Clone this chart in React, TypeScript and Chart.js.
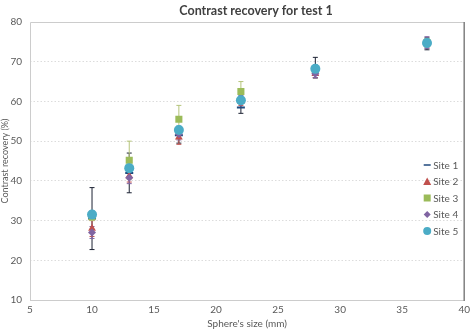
import React, { useEffect, useRef } from 'react';
import { Chart, registerables } from 'chart.js';

Chart.register(...registerables);

const chartTitle = 'Contrast recovery for test 1';
const xTitle = "Sphere's size (mm)";
const yTitle = 'Contrast recovery (%)';

const sizes = [10, 13, 17, 22, 28, 37];
const seriesNames = ['Site 1', 'Site 2', 'Site 3', 'Site 4', 'Site 5'];

const site1 = [30.5, 42, 51.5, 58.5, 68.5, 74.5];
const site1Err = [7.8, 5, 2, 1.5, 2.6, 1.5];
const site2 = [28, 41.2, 51, 60, 67, 74.5];
const site2Err = [2, 1.5, 1.8, 1, 1, 1];
const site3 = [31, 45.2, 55.5, 62.5, 68, 74.8];
const site3Err = [1, 4.8, 3.5, 2.5, 1, 1];
const site4 = [27, 40.8, 51.8, 60, 67, 74.8];
const site4Err = [1.5, 1.5, 1.5, 1.5, 1, 1.5];
const site5 = [31.5, 43.2, 52.8, 60.3, 68.2, 74.7];
const site5Err = [1, 1, 1, 1, 1, 1];

const seriesValues = [site1, site2, site3, site4, site5];
const seriesErrors = [site1Err, site2Err, site3Err, site4Err, site5Err];
const seriesColors = ['#1f497d', '#c0504d', '#9bbb59', '#8064a2', '#4bacc6'];
const errorColors = ['#1c2233', '#c0504d', '#b5c47a', '#8064a2', '#4bacc6'];
const pointStyles = ['line', 'triangle', 'rect', 'rectRot', 'circle'];
const pointRadii = [4, 4.5, 5, 4, 5];

const FONT = 'Lato, "Liberation Sans", sans-serif';
const GREY = '#595959';

const errorBarPlugin = {
  id: 'errorBars',
  beforeDatasetsDraw(chart: any) {
    const ctx = chart.ctx;
    const xs = chart.scales.x;
    const ys = chart.scales.y;
    ctx.save();
    seriesValues.forEach((vals, si) => {
      vals.forEach((v, j) => {
        const e = seriesErrors[si][j];
        const px = xs.getPixelForValue(sizes[j]);
        const top = ys.getPixelForValue(v + e);
        const bot = ys.getPixelForValue(v - e);
        ctx.strokeStyle = errorColors[si];
        ctx.lineWidth = 1;
        ctx.beginPath();
        ctx.moveTo(px, top);
        ctx.lineTo(px, bot);
        ctx.moveTo(px - 2.5, top);
        ctx.lineTo(px + 2.5, top);
        ctx.moveTo(px - 2.5, bot);
        ctx.lineTo(px + 2.5, bot);
        ctx.stroke();
      });
    });
    ctx.restore();
  },
};

const framePlugin = {
  id: 'frame',
  beforeDraw(chart: any) {
    const { ctx } = chart;
    ctx.save();
    ctx.fillStyle = '#ffffff';
    ctx.fillRect(0, 0, chart.width, chart.height);
    ctx.restore();
  },
  afterDraw(chart: any) {
    const { ctx, chartArea: a } = chart;
    ctx.save();
    ctx.strokeStyle = '#cccccc';
    ctx.lineWidth = 1;
    ctx.beginPath();
    ctx.moveTo(a.left + 0.5, a.bottom + 0.5);
    ctx.lineTo(a.left + 0.5, a.top + 0.5);
    ctx.lineTo(a.right, a.top + 0.5);
    ctx.moveTo(a.left, a.bottom + 0.5);
    ctx.lineTo(a.right, a.bottom + 0.5);
    ctx.stroke();
    ctx.strokeStyle = '#808080';
    ctx.lineWidth = 1.5;
    ctx.beginPath();
    ctx.moveTo(a.right, a.top);
    ctx.lineTo(a.right, a.bottom + 1);
    ctx.stroke();

    // title
    ctx.fillStyle = '#404040';
    ctx.font = `bold 12.5px ${FONT}`;
    ctx.textAlign = 'center';
    ctx.textBaseline = 'middle';
    ctx.fillText(chartTitle, 256, 11);

    // legend
    ctx.font = `10px ${FONT}`;
    ctx.textAlign = 'left';
    seriesNames.forEach((name, i) => {
      const y = a.top + 143 + i * 16.5;
      const mx = a.right - 37;
      const c = seriesColors[i];
      ctx.fillStyle = c;
      ctx.strokeStyle = c;
      ctx.lineWidth = 1.5;
      const st = pointStyles[i];
      ctx.beginPath();
      if (st === 'line') {
        ctx.moveTo(mx - 3.5, y);
        ctx.lineTo(mx + 3.5, y);
        ctx.stroke();
      } else if (st === 'triangle') {
        ctx.moveTo(mx, y - 4);
        ctx.lineTo(mx + 4, y + 3.5);
        ctx.lineTo(mx - 4, y + 3.5);
        ctx.closePath();
        ctx.fill();
      } else if (st === 'rect') {
        ctx.rect(mx - 3.5, y - 3.5, 7, 7);
        ctx.fill();
      } else if (st === 'rectRot') {
        ctx.moveTo(mx, y - 3.5);
        ctx.lineTo(mx + 3.5, y);
        ctx.lineTo(mx, y + 3.5);
        ctx.lineTo(mx - 3.5, y);
        ctx.closePath();
        ctx.fill();
      } else {
        ctx.arc(mx, y, 4, 0, Math.PI * 2);
        ctx.fill();
      }
      ctx.fillStyle = GREY;
      ctx.fillText(name, mx + 6, y + 0.5);
    });
    ctx.restore();
  },
};

export default function App() {
  const canvasRef = useRef<HTMLCanvasElement | null>(null);

  useEffect(() => {
    if (!canvasRef.current) return;
    const datasets = seriesNames.map((name, i) => ({
      label: name,
      data: sizes.map((x, j) => ({ x, y: seriesValues[i][j] })),
      pointStyle: pointStyles[i] as any,
      pointRadius: pointRadii[i],
      pointHoverRadius: pointRadii[i],
      backgroundColor: seriesColors[i],
      borderColor: seriesColors[i],
      pointBorderWidth: i === 0 ? 2 : 0,
      showLine: false,
      order: 4 - i,
    }));

    const chart = new Chart(canvasRef.current, {
      type: 'scatter',
      data: { datasets },
      plugins: [framePlugin, errorBarPlugin],
      options: {
        animation: false,
        responsive: true,
        maintainAspectRatio: false,
        layout: { padding: { top: 22, right: 7, left: 0, bottom: 0 } },
        plugins: {
          legend: { display: false },
          title: { display: false },
          tooltip: { enabled: false },
        },
        scales: {
          x: {
            type: 'linear',
            min: 5,
            max: 40,
            ticks: { stepSize: 5, color: GREY, font: { family: FONT, size: 10 }, padding: 4 },
            grid: { display: false, drawTicks: false },
            border: { display: false },
            title: { display: true, text: xTitle, color: GREY, font: { family: FONT, size: 10 }, padding: 0 },
            afterFit: (s: any) => { s.height = 30; },
          },
          y: {
            type: 'linear',
            min: 10,
            max: 80,
            ticks: { stepSize: 10, color: GREY, font: { family: FONT, size: 10 }, padding: 8 },
            grid: {
              drawTicks: false,
              color: (c: any) => (c.tick && (c.tick.value === 10 || c.tick.value === 80) ? 'rgba(0,0,0,0)' : '#dcdcdc'),
            },
            border: { display: false, dash: [1.5, 2] },
            title: { display: true, text: yTitle, color: GREY, font: { family: FONT, size: 9 }, padding: 0 },
            afterFit: (s: any) => { s.width = 30; },
          },
        },
      },
    });
    return () => chart.destroy();
  }, []);

  return (
    <div style={{ position: 'fixed', left: 0, top: 0, width: 474, height: 330, background: '#fff' }}>
      <canvas ref={canvasRef} />
    </div>
  );
}
